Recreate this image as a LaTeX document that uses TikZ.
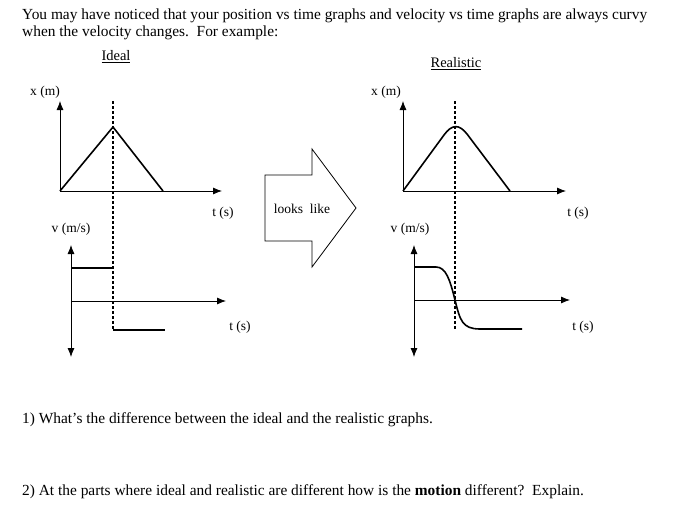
\documentclass[tikz,border=0pt]{standalone}
\usepackage{fontspec}
\setmainfont{Liberation Serif}
\usetikzlibrary{arrows.meta}
\begin{document}
\begin{tikzpicture}[x=1pt,y=-1pt,
  ax/.style={line width=0.8pt,-{Latex[length=9pt,width=7pt]}},
  dax/.style={line width=0.8pt,{Latex[length=9pt,width=7pt]}-{Latex[length=9pt,width=7pt]}},
  crv/.style={line width=1.6pt},
  dsh/.style={line width=1.2pt,dash pattern=on 2.5pt off 2.5pt},
  lbl/.style={inner sep=0pt,font=\fontsize{13.5}{15}\selectfont},
  txt/.style={inner sep=0pt,anchor=west,font=\fontsize{15.4}{17}\selectfont}]
\useasboundingbox (0,0) rectangle (677,511);
\node[txt] (l1) at (22,16) {You may have noticed that your position vs time graphs and velocity vs time graphs are always curvy};
\node[txt] (l2) at (22,33) {when the velocity changes.\ \ For example:};
\node[lbl,font=\fontsize{14.5}{16}\selectfont] (ti) at (116,57) {\underline{Ideal}};
\node[lbl,font=\fontsize{14.5}{16}\selectfont] (tr) at (456,64) {\underline{Realistic}};
% ideal x
\coordinate (o1) at (60,191);
\coordinate (xt1) at (60,101);
\coordinate (xr1) at (222,191);
\draw[ax] (o1) -- (xt1);
\draw[ax] (o1) -- (xr1);
\coordinate (p1) at (113,127);
\coordinate (e1) at (163,191);
\draw[crv] (o1) -- (p1) -- (e1);
\coordinate (d1a) at (113,101);
\coordinate (d1b) at (113,330);
\draw[dsh] (d1a) -- (d1b);
\node[lbl] (xm1) at (45,92) {x (m)};
\node[lbl] (ts1) at (223,213) {t (s)};
\node[lbl] (vm1) at (71,229) {v (m/s)};
\node[lbl] (ts2) at (240,327) {t (s)};
% ideal v
\coordinate (vt1) at (71,245);
\coordinate (vb1) at (71,357);
\draw[dax] (vt1) -- (vb1);
\coordinate (vo1) at (71,301);
\coordinate (vr1) at (226,301);
\draw[ax] (vo1) -- (vr1);
\coordinate (a1) at (71,268);
\coordinate (a2) at (113,268);
\draw[crv] (a1) -- (a2);
\coordinate (b1) at (113,330);
\coordinate (b2) at (165,330);
\draw[crv] (b1) -- (b2);
% arrow
\draw[line width=0.8pt] (265,175) -- (312,175) -- (312,149) -- (356,208) -- (312,267) -- (312,241) -- (265,241) -- cycle;
\node[lbl] (lk) at (302,209) {looks\ \ like};
% realistic x
\coordinate (o2) at (403,191);
\draw[ax] (o2) -- (403,101);
\draw[ax] (o2) -- (566,191);
\draw[crv] (o2) -- (444,135) .. controls (452,124) and (459,124) .. (467,134) -- (510,191);
\draw[dsh] (455,101) -- (455,329);
\node[lbl] (xm2) at (386,92) {x (m)};
\node[lbl] (ts3) at (578,213) {t (s)};
\node[lbl] (vm2) at (410,229) {v (m/s)};
\node[lbl] (ts4) at (583,327) {t (s)};
% realistic v
\draw[dax] (414,245) -- (414,357);
\draw[ax] (414,300) -- (570,300);
\draw[crv] (414,267) -- (436,267) .. controls (446,267) and (450,280) .. (455,300)
  .. controls (460,320) and (462,329) .. (480,329) -- (522,329);
\node[txt] (q1) at (22,420) {1) What's the difference between the ideal and the realistic graphs.};
\node[txt] (q2) at (22,492) {2) At the parts where ideal and realistic are different how is the \textbf{motion} different?\ \ Explain.};
\end{tikzpicture}
\end{document}
